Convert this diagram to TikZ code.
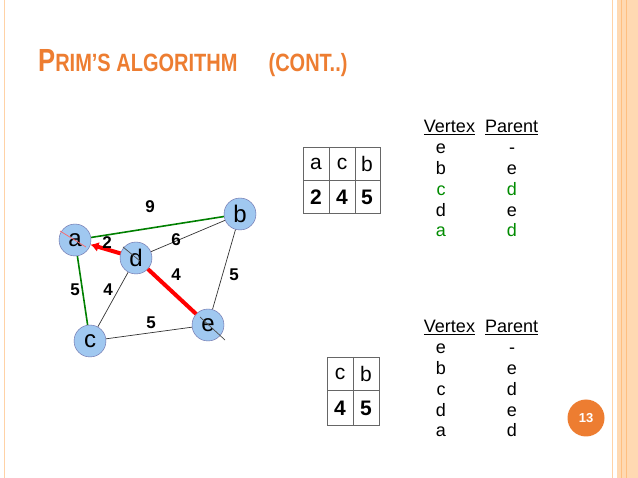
\documentclass[tikz,border=0pt]{standalone}
\usepackage{fontspec}
\setmainfont{Liberation Sans}
\usetikzlibrary{arrows.meta,backgrounds}
\definecolor{nodefill}{RGB}{160,200,240}
\definecolor{ttl}{RGB}{237,125,49}
\begin{document}
\begin{tikzpicture}[x=1pt,y=-1pt,
 vx/.style={circle,draw=black!60!blue!60,fill=nodefill,minimum size=32pt,inner sep=0pt,font=\fontsize{24}{24}\selectfont},
 w/.style={font=\bfseries\fontsize{17}{17}\selectfont},
 thin/.style={draw=black!80,line width=0.7pt},
 grn/.style={draw=green!50!black,line width=1.6pt},
 red/.style={draw=red,line width=4pt},
 tx/.style={font=\fontsize{18}{18}\selectfont,anchor=base},
 cell/.style={font=\fontsize{21}{21}\selectfont}]
\useasboundingbox (0,0) rectangle (638,478);
\begin{scope}[on background layer]
\fill[white] (0,0) rectangle (638,478);
\end{scope}
\draw[orange!35,line width=1pt] (4,0) -- (4,478);
\draw[orange!35,line width=1pt] (612,0) -- (612,478);
\fill[orange!30] (617,0) rectangle (638,478);
\draw[orange!50,line width=1pt] (621,0) -- (621,478) (626,0) -- (626,478);
% title
\node[anchor=base west,text=ttl,inner sep=0pt] (title) at (38,72)
 {\scalebox{0.8}[1]{\bfseries\fontsize{32}{32}\selectfont P\fontsize{25}{25}\selectfont RIM’S ALGORITHM\quad\ \ (CONT..)}};
% graph
\node[vx] (a) at (75,240) {a};
\node[vx] (b) at (240,214) {b};
\node[vx] (d) at (136,258) {d};
\node[vx] (e) at (208,325) {e};
\node[vx] (c) at (90,341) {c};
\begin{scope}[on background layer]
\draw[grn] (a) -- (b);
\draw[grn] (a) -- (c);
\draw[thin] (d) -- (b);
\draw[thin] (d) -- (c);
\draw[thin] (c) -- (e);
\draw[thin] (b) -- (e);
\end{scope}
\draw[red] (d) -- (e);
\draw[red,-{Latex[length=8pt,width=10pt]}] (d) -- (a);
\coordinate (a1) at (60,231); \coordinate (a2) at (86,247);
\draw[red!60,line width=0.7pt] (a1) -- (a2);
\coordinate (e1) at (200,317); \coordinate (e2) at (225,340);
\draw[black!70,line width=0.7pt] (e1) -- (e2);
\coordinate (d1) at (123,247); \coordinate (d2) at (140,261);
\draw[black!70,line width=0.7pt] (d1) -- (d2);
\node[w] (w9) at (150,207) {9};
\node[w] (w2) at (107,243) {2};
\node[w] (w6) at (176,240) {6};
\node[w] (w4a) at (176,275) {4};
\node[w] (w5a) at (234,275) {5};
\node[w] (w5b) at (75,290) {5};
\node[w] (w4b) at (108,290) {4};
\node[w] (w5c) at (151,323) {5};
% table 1
\draw[black!60,line width=0.8pt] (303,147) rectangle (380,213) (303,180) -- (380,180)
 (329,147) -- (329,213) (355,147) -- (355,213);
\node[cell] (t1) at (316,164) {a}; \node[cell] (t2) at (342,164) {c}; \node[cell] (t3) at (367,164) {b};
\node[cell,font=\bfseries\fontsize{21}{21}\selectfont] (t4) at (316,197) {2};
\node[cell,font=\bfseries\fontsize{21}{21}\selectfont] (t5) at (342,197) {4};
\node[cell,font=\bfseries\fontsize{21}{21}\selectfont] (t6) at (367,197) {5};
% table 2
\draw[black!60,line width=0.8pt] (327,357) rectangle (379,425) (327,390) -- (379,390)
 (353,357) -- (353,425);
\node[cell] (s1) at (340,374) {c}; \node[cell] (s2) at (366,374) {b};
\node[cell,font=\bfseries\fontsize{21}{21}\selectfont] (s3) at (340,408) {4};
\node[cell,font=\bfseries\fontsize{21}{21}\selectfont] (s4) at (366,408) {5};
% list 1
\node[tx] (h1) at (481,133) {\underline{Vertex}\ \ \underline{Parent}};
\foreach \v/\p/\col [count=\i] in {e/-/black,b/e/black,c/d/green!55!black,d/e/black,a/d/green!55!black}{
 \node[tx,text=\col] (l1v\i) at (441,133+20.8*\i) {\v};
 \node[tx,text=\col] (l1p\i) at (512,133+20.8*\i) {\p};}
% list 2
\node[tx] (h2) at (481,333) {\underline{Vertex}\ \ \underline{Parent}};
\foreach \v/\p [count=\i] in {e/-,b/e,c/d,d/e,a/d}{
 \node[tx] (l2v\i) at (441,333+20.8*\i) {\v};
 \node[tx] (l2p\i) at (512,333+20.8*\i) {\p};}
% page number
\node[circle,fill=ttl,minimum size=37pt,text=white,font=\bfseries\fontsize{13}{13}\selectfont] (pg) at (586,418) {13};
\end{tikzpicture}
\end{document}
